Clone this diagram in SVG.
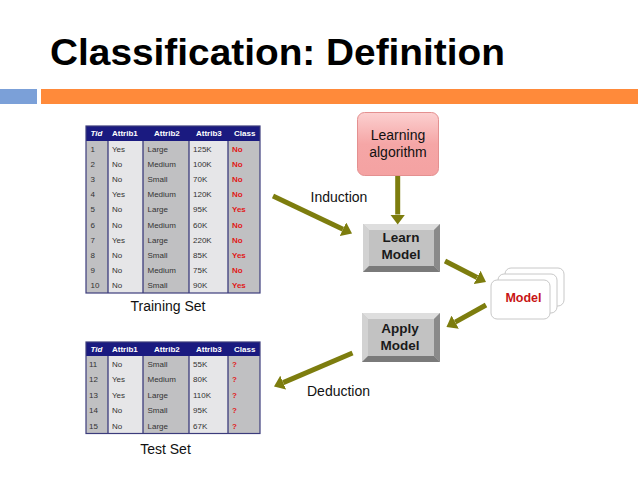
<svg xmlns="http://www.w3.org/2000/svg" width="638" height="478" viewBox="0 0 638 478">
<defs>
<style>
.title{font-family:"Liberation Sans",Arial,sans-serif;font-weight:bold;font-size:36px;fill:#000}
.lbl{font-family:"Liberation Sans",Arial,sans-serif;font-size:14px;fill:#111}
.hd{font-family:"Liberation Sans",Arial,sans-serif;font-weight:bold;font-size:8px;fill:#fff}
.cell{font-family:"Liberation Sans",Arial,sans-serif;font-size:8px;fill:#333}
.cls{font-family:"Liberation Sans",Arial,sans-serif;font-size:8px;font-weight:bold;fill:#e01818}
.btn{font-family:"Liberation Sans",Arial,sans-serif;font-weight:bold;font-size:13.5px;fill:#1a1a1a;text-anchor:middle}
.dark{fill:#c0c0c2}
.light{fill:#e6e6e8}
.sep{stroke:#3c3c7c;stroke-width:1.3}
.arrow{fill:none;stroke:#7d7d0e;stroke-width:5;marker-end:url(#ah)}
.card{fill:#fff;stroke:#c8c8c8;stroke-width:1}
</style>
<marker id="ah" markerUnits="userSpaceOnUse" markerWidth="10" markerHeight="15" viewBox="0 0 10 15" refX="0" refY="7.5" orient="auto">
<path d="M0,0 L10,7.5 L0,15 z" fill="#7d7d0e"/>
</marker>
<linearGradient id="pink" x1="0" y1="0" x2="0" y2="1">
<stop offset="0" stop-color="#fcd0d0"/>
<stop offset="0.5" stop-color="#f5a6a6"/>
<stop offset="1" stop-color="#f4a2a2"/>
</linearGradient>
</defs>
<rect width="638" height="478" fill="#fff"/>
<text class="title" x="50" y="65" textLength="455" lengthAdjust="spacingAndGlyphs">Classification: Definition</text>
<rect x="0" y="89" width="37" height="15" fill="#7ba0d8"/>
<rect x="41" y="89" width="597" height="15" fill="#ff8a3a"/>

<g id="training-table">
<rect x="86" y="126" width="174" height="15" fill="#1a1a80"/>
<rect x="86" y="141" width="22" height="152" class="dark"/>
<rect x="108" y="141" width="35" height="152" class="light"/>
<rect x="143" y="141" width="46" height="152" class="dark"/>
<rect x="189" y="141" width="39" height="152" class="light"/>
<rect x="228" y="141" width="32" height="152" class="dark"/>
<line class="sep" x1="108" y1="141" x2="108" y2="293"/>
<line class="sep" x1="143" y1="141" x2="143" y2="293"/>
<line class="sep" x1="189" y1="141" x2="189" y2="293"/>
<line class="sep" x1="228" y1="141" x2="228" y2="293"/>
<rect x="86" y="126" width="174" height="167" fill="none" stroke="#3c3c7c" stroke-width="1.2"/>
<text class="hd" x="90.5" y="136" font-style="italic">Tid</text>
<text class="hd" x="112" y="136">Attrib1</text>
<text class="hd" x="154" y="136">Attrib2</text>
<text class="hd" x="196" y="136">Attrib3</text>
<text class="hd" x="234" y="136">Class</text>
<g>
<text class="cell" x="90.5" y="151.5">1</text><text class="cell" x="112" y="151.5">Yes</text><text class="cell" x="147.5" y="151.5">Large</text><text class="cell" x="193" y="151.5">125K</text><text class="cls" x="232" y="151.5">No</text>
<text class="cell" x="90.5" y="166.7">2</text><text class="cell" x="112" y="166.7">No</text><text class="cell" x="147.5" y="166.7">Medium</text><text class="cell" x="193" y="166.7">100K</text><text class="cls" x="232" y="166.7">No</text>
<text class="cell" x="90.5" y="181.9">3</text><text class="cell" x="112" y="181.9">No</text><text class="cell" x="147.5" y="181.9">Small</text><text class="cell" x="193" y="181.9">70K</text><text class="cls" x="232" y="181.9">No</text>
<text class="cell" x="90.5" y="197.1">4</text><text class="cell" x="112" y="197.1">Yes</text><text class="cell" x="147.5" y="197.1">Medium</text><text class="cell" x="193" y="197.1">120K</text><text class="cls" x="232" y="197.1">No</text>
<text class="cell" x="90.5" y="212.3">5</text><text class="cell" x="112" y="212.3">No</text><text class="cell" x="147.5" y="212.3">Large</text><text class="cell" x="193" y="212.3">95K</text><text class="cls" x="232" y="212.3">Yes</text>
<text class="cell" x="90.5" y="227.5">6</text><text class="cell" x="112" y="227.5">No</text><text class="cell" x="147.5" y="227.5">Medium</text><text class="cell" x="193" y="227.5">60K</text><text class="cls" x="232" y="227.5">No</text>
<text class="cell" x="90.5" y="242.7">7</text><text class="cell" x="112" y="242.7">Yes</text><text class="cell" x="147.5" y="242.7">Large</text><text class="cell" x="193" y="242.7">220K</text><text class="cls" x="232" y="242.7">No</text>
<text class="cell" x="90.5" y="257.9">8</text><text class="cell" x="112" y="257.9">No</text><text class="cell" x="147.5" y="257.9">Small</text><text class="cell" x="193" y="257.9">85K</text><text class="cls" x="232" y="257.9">Yes</text>
<text class="cell" x="90.5" y="273.1">9</text><text class="cell" x="112" y="273.1">No</text><text class="cell" x="147.5" y="273.1">Medium</text><text class="cell" x="193" y="273.1">75K</text><text class="cls" x="232" y="273.1">No</text>
<text class="cell" x="90.5" y="288.3">10</text><text class="cell" x="112" y="288.3">No</text><text class="cell" x="147.5" y="288.3">Small</text><text class="cell" x="193" y="288.3">90K</text><text class="cls" x="232" y="288.3">Yes</text>
</g>
<text class="lbl" x="168" y="311" text-anchor="middle">Training Set</text>
</g>

<g id="test-table">
<rect x="86" y="342" width="174" height="14" fill="#1a1a80"/>
<rect x="86" y="356" width="22" height="77.5" class="dark"/>
<rect x="108" y="356" width="35" height="77.5" class="light"/>
<rect x="143" y="356" width="46" height="77.5" class="dark"/>
<rect x="189" y="356" width="39" height="77.5" class="light"/>
<rect x="228" y="356" width="32" height="77.5" class="dark"/>
<line class="sep" x1="108" y1="356" x2="108" y2="433.5"/>
<line class="sep" x1="143" y1="356" x2="143" y2="433.5"/>
<line class="sep" x1="189" y1="356" x2="189" y2="433.5"/>
<line class="sep" x1="228" y1="356" x2="228" y2="433.5"/>
<rect x="86" y="342" width="174" height="91.5" fill="none" stroke="#3c3c7c" stroke-width="1.2"/>
<text class="hd" x="90.5" y="352" font-style="italic">Tid</text>
<text class="hd" x="112" y="352">Attrib1</text>
<text class="hd" x="154" y="352">Attrib2</text>
<text class="hd" x="196" y="352">Attrib3</text>
<text class="hd" x="234" y="352">Class</text>
<text class="cell" x="89" y="366.6">11</text><text class="cell" x="112" y="366.6">No</text><text class="cell" x="147.5" y="366.6">Small</text><text class="cell" x="193" y="366.6">55K</text><text class="cls" x="232" y="366.6">?</text>
<text class="cell" x="89" y="382.1">12</text><text class="cell" x="112" y="382.1">Yes</text><text class="cell" x="147.5" y="382.1">Medium</text><text class="cell" x="193" y="382.1">80K</text><text class="cls" x="232" y="382.1">?</text>
<text class="cell" x="89" y="397.6">13</text><text class="cell" x="112" y="397.6">Yes</text><text class="cell" x="147.5" y="397.6">Large</text><text class="cell" x="193" y="397.6">110K</text><text class="cls" x="232" y="397.6">?</text>
<text class="cell" x="89" y="413.1">14</text><text class="cell" x="112" y="413.1">No</text><text class="cell" x="147.5" y="413.1">Small</text><text class="cell" x="193" y="413.1">95K</text><text class="cls" x="232" y="413.1">?</text>
<text class="cell" x="89" y="428.6">15</text><text class="cell" x="112" y="428.6">No</text><text class="cell" x="147.5" y="428.6">Large</text><text class="cell" x="193" y="428.6">67K</text><text class="cls" x="232" y="428.6">?</text>
<text class="lbl" x="165.5" y="454" text-anchor="middle">Test Set</text>
</g>

<g id="learning-algorithm">
<rect x="357.5" y="112.5" width="81" height="63" rx="7" fill="url(#pink)" stroke="#e49090" stroke-width="1"/>
<text class="lbl" x="398" y="140" text-anchor="middle" fill="#333">Learning</text>
<text class="lbl" x="398" y="157" text-anchor="middle" fill="#333">algorithm</text>
</g>

<g id="learn-model">
<rect x="363" y="224" width="77" height="48" fill="#c2c2c2"/>
<polygon points="363,224 440,224 434,230 369,230" fill="#dedede"/>
<polygon points="363,224 369,230 369,266 363,272" fill="#d2d2d2"/>
<polygon points="440,224 440,272 434,266 434,230" fill="#8a8a8a"/>
<polygon points="363,272 440,272 434,266 369,266" fill="#7a7a7a"/>
<text class="btn" x="401" y="241.5">Learn</text>
<text class="btn" x="401" y="259">Model</text>
</g>

<g id="apply-model">
<rect x="362" y="313" width="78" height="49" fill="#c2c2c2"/>
<polygon points="362,313 440,313 434,319 368,319" fill="#dedede"/>
<polygon points="362,313 368,319 368,356 362,362" fill="#d2d2d2"/>
<polygon points="440,313 440,362 434,356 434,319" fill="#8a8a8a"/>
<polygon points="362,362 440,362 434,356 368,356" fill="#7a7a7a"/>
<text class="btn" x="400" y="333">Apply</text>
<text class="btn" x="400" y="349.5">Model</text>
</g>

<g id="model">
<rect class="card" x="505" y="268" width="59" height="38" rx="6"/>
<rect class="card" x="498" y="274" width="59" height="39" rx="6"/>
<rect class="card" x="491" y="280" width="59" height="39" rx="6"/>
<text x="523.5" y="302" text-anchor="middle" font-family="'Liberation Sans',Arial,sans-serif" font-weight="bold" font-size="12.5" fill="#c81414">Model</text>
</g>

<g id="connectors">
<path class="arrow" d="M397.7,176 L397.7,214.5"/>
<path class="arrow" d="M273,196 L343,229.2"/>
<path class="arrow" d="M445,261 L477.1,277.4"/>
<path class="arrow" d="M486,305 L455.2,322.1"/>
<path class="arrow" d="M352.5,353 L283.2,382.6"/>
<text class="lbl" x="310.5" y="202">Induction</text>
<text class="lbl" x="307" y="396">Deduction</text>
</g>
</svg>
